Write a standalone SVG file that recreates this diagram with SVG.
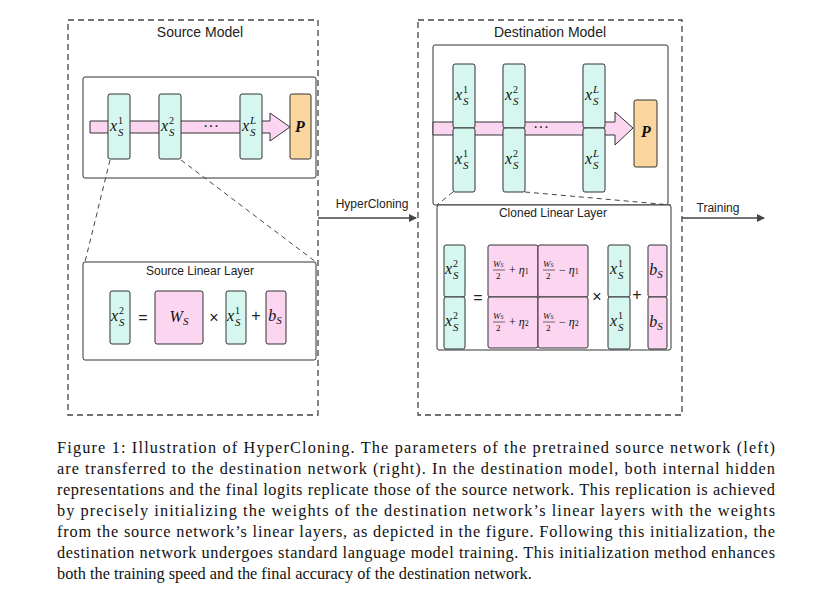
<svg xmlns="http://www.w3.org/2000/svg" width="827" height="600" viewBox="0 0 827 600">
<style>
.dash{fill:none;stroke:#444;stroke-width:1.3;stroke-dasharray:6,4}
.box{fill:#fff;stroke:#333;stroke-width:1}
.g{fill:#d6f7ef;stroke:#333;stroke-width:1}
.p{fill:#fcd5f1;stroke:#333;stroke-width:1}
.o{fill:#fbd79f;stroke:#333;stroke-width:1}
.t{font-family:"Liberation Sans",sans-serif;font-size:14px;fill:#222;text-anchor:middle}
.ts{font-family:"Liberation Sans",sans-serif;font-size:12px;fill:#222;text-anchor:middle}
.m{font-family:"Liberation Serif",serif;font-style:italic;font-size:16px;fill:#111;text-anchor:middle}
.x{font-family:"Liberation Serif",serif;font-style:italic;font-size:16px;fill:#111}
.sp{font-family:"Liberation Serif",serif;font-size:10px;fill:#111}
.sb{font-family:"Liberation Serif",serif;font-style:italic;font-size:11px;fill:#111}
.op{font-family:"Liberation Sans",sans-serif;font-size:16px;fill:#222;text-anchor:middle}
.cap{font-family:"Liberation Serif",serif;font-size:16.3px;fill:#111}
.cl{fill:none;stroke:#444;stroke-width:1;stroke-dasharray:5,4}
</style>
<defs>
<marker id="ah" markerWidth="8" markerHeight="8" refX="7" refY="4" orient="auto" markerUnits="userSpaceOnUse"><path d="M0,0 L8,4 L0,8 z" fill="#444"/></marker>
</defs>
<g id="source">
<rect class="dash" x="68" y="20" width="250" height="395"/>
<text class="t" x="200" y="37">Source Model</text>
<rect class="box" x="83" y="77" width="233" height="101" rx="2"/>
<path class="p" d="M90,121 H270 V113 L290,127 L270,141 V133 H90 Z"/>
<rect class="g" x="108" y="94" width="22" height="65" rx="2"/>
<rect class="g" x="159" y="94" width="22" height="65" rx="2"/>
<rect class="g" x="240" y="94" width="22" height="65" rx="2"/>
<rect class="o" x="290" y="94" width="21" height="65" rx="2"/>
<text class="x" x="110" y="131">x</text><text class="sp" x="118" y="124">1</text><text class="sb" x="118" y="136">S</text>
<text class="x" x="161" y="131">x</text><text class="sp" x="169" y="124">2</text><text class="sb" x="169" y="136">S</text>
<text class="x" x="242" y="131">x</text><text class="sb" x="250" y="124" font-size="10">L</text><text class="sb" x="250" y="136">S</text>
<text class="op" x="211" y="131">···</text>
<text class="m" x="300" y="132" font-weight="bold">P</text>
<rect class="box" x="83" y="262" width="233" height="98" rx="2"/>
<text class="ts" x="200" y="275">Source Linear Layer</text>
<rect class="g" x="110" y="291" width="20" height="53" rx="2"/>
<text class="x" x="111" y="321">x</text><text class="sp" x="119" y="314">2</text><text class="sb" x="119" y="326">S</text>
<text class="op" x="143" y="323">=</text>
<rect class="p" x="155" y="291" width="48" height="53" rx="2"/>
<text class="m" x="179" y="322">W<tspan font-size="11" dy="3">S</tspan></text>
<text class="op" x="214" y="323">×</text>
<rect class="g" x="226" y="291" width="20" height="53" rx="2"/>
<text class="x" x="227" y="321">x</text><text class="sp" x="235" y="314">1</text><text class="sb" x="235" y="326">S</text>
<text class="op" x="256" y="321">+</text>
<rect class="p" x="266" y="291" width="20" height="53" rx="2"/>
<text class="m" x="275" y="321">b<tspan font-size="11" dy="3">S</tspan></text>
</g>
<g id="destination">
<rect class="dash" x="418" y="20" width="264" height="395"/>
<text class="t" x="550" y="37">Destination Model</text>
<rect class="box" x="433" y="45" width="235" height="160" rx="2"/>
<path class="p" d="M433,122 H615 V112 L633,128 L615,145 V135 H433 Z"/>
<rect class="g" x="453" y="64" width="22" height="64" rx="2"/>
<rect class="g" x="453" y="128" width="22" height="64" rx="2"/>
<rect class="g" x="503" y="64" width="22" height="64" rx="2"/>
<rect class="g" x="503" y="128" width="22" height="64" rx="2"/>
<rect class="g" x="583" y="64" width="22" height="64" rx="2"/>
<rect class="g" x="583" y="128" width="22" height="64" rx="2"/>
<rect class="o" x="634" y="100" width="23" height="67" rx="2"/>
<text class="x" x="455" y="100">x</text><text class="sp" x="463" y="93">1</text><text class="sb" x="463" y="105">S</text>
<text class="x" x="455" y="164">x</text><text class="sp" x="463" y="157">1</text><text class="sb" x="463" y="169">S</text>
<text class="x" x="505" y="100">x</text><text class="sp" x="513" y="93">2</text><text class="sb" x="513" y="105">S</text>
<text class="x" x="505" y="164">x</text><text class="sp" x="513" y="157">2</text><text class="sb" x="513" y="169">S</text>
<text class="x" x="585" y="100">x</text><text class="sb" x="593" y="93" font-size="10">L</text><text class="sb" x="593" y="105">S</text>
<text class="x" x="585" y="164">x</text><text class="sb" x="593" y="157" font-size="10">L</text><text class="sb" x="593" y="169">S</text>
<text class="op" x="541" y="132">···</text>
<text class="m" x="646" y="137" font-weight="bold">P</text>
<rect class="box" x="437" y="205" width="234" height="145" rx="2"/>
<text class="ts" x="553" y="217">Cloned Linear Layer</text>
<rect class="g" x="444" y="245" width="21" height="52" rx="2"/>
<rect class="g" x="444" y="297" width="21" height="52" rx="2"/>
<text class="x" x="445" y="274">x</text><text class="sp" x="453" y="267">2</text><text class="sb" x="453" y="279">S</text>
<text class="x" x="445" y="326">x</text><text class="sp" x="453" y="319">2</text><text class="sb" x="453" y="331">S</text>
<text class="op" x="478" y="303">=</text>
<rect class="p" x="488" y="245" width="50" height="52" rx="2"/>
<rect class="p" x="538" y="245" width="50" height="52" rx="2"/>
<rect class="p" x="488" y="297" width="50" height="51" rx="2"/>
<rect class="p" x="538" y="297" width="50" height="51" rx="2"/>
<g font-family="Liberation Serif,serif" font-size="9" fill="#111">
<text x="493" y="267" font-style="italic">W<tspan font-size="6">S</tspan></text><line x1="493" y1="270" x2="505" y2="270" stroke="#111" stroke-width="0.6"/><text x="496" y="279">2</text>
<text x="509" y="274" font-size="12">+ <tspan font-style="italic">η</tspan><tspan font-size="8">1</tspan></text>
<text x="543" y="267" font-style="italic">W<tspan font-size="6">S</tspan></text><line x1="543" y1="270" x2="555" y2="270" stroke="#111" stroke-width="0.6"/><text x="546" y="279">2</text>
<text x="559" y="274" font-size="12">− <tspan font-style="italic">η</tspan><tspan font-size="8">1</tspan></text>
<text x="493" y="319" font-style="italic">W<tspan font-size="6">S</tspan></text><line x1="493" y1="322" x2="505" y2="322" stroke="#111" stroke-width="0.6"/><text x="496" y="331">2</text>
<text x="509" y="326" font-size="12">+ <tspan font-style="italic">η</tspan><tspan font-size="8">2</tspan></text>
<text x="543" y="319" font-style="italic">W<tspan font-size="6">S</tspan></text><line x1="543" y1="322" x2="555" y2="322" stroke="#111" stroke-width="0.6"/><text x="546" y="331">2</text>
<text x="559" y="326" font-size="12">− <tspan font-style="italic">η</tspan><tspan font-size="8">2</tspan></text>
</g>
<text class="op" x="597" y="302">×</text>
<rect class="g" x="608" y="245" width="22" height="52" rx="2"/>
<rect class="g" x="608" y="297" width="22" height="52" rx="2"/>
<text class="x" x="610" y="274">x</text><text class="sp" x="618" y="267">1</text><text class="sb" x="618" y="279">S</text>
<text class="x" x="610" y="326">x</text><text class="sp" x="618" y="319">1</text><text class="sb" x="618" y="331">S</text>
<text class="op" x="637" y="300">+</text>
<rect class="p" x="648" y="245" width="19" height="52" rx="2"/>
<rect class="p" x="648" y="297" width="19" height="52" rx="2"/>
<text class="m" x="656" y="275">b<tspan font-size="11" dy="3">S</tspan></text>
<text class="m" x="656" y="327">b<tspan font-size="11" dy="3">S</tspan></text>
</g>
<g id="connectors">
<line class="cl" x1="110" y1="160" x2="85" y2="262"/>
<line class="cl" x1="181" y1="160" x2="316" y2="262"/>
<line class="cl" x1="453" y1="192" x2="437" y2="205"/>
<line class="cl" x1="525" y1="192" x2="671" y2="205"/>
<line x1="318" y1="218" x2="416" y2="218" stroke="#444" stroke-width="1.5" marker-end="url(#ah)"/>
<text class="ts" x="372" y="208">HyperCloning</text>
<line x1="682" y1="218" x2="764" y2="218" stroke="#444" stroke-width="1.5" marker-end="url(#ah)"/>
<text class="ts" x="718" y="212">Training</text>
</g>
<g id="caption" class="cap">
<text x="57" y="453" textLength="718" lengthAdjust="spacing">Figure 1: Illustration of HyperCloning.  The parameters of the pretrained source network (left)</text>
<text x="57" y="474" textLength="718" lengthAdjust="spacing">are transferred to the destination network (right). In the destination model, both internal hidden</text>
<text x="57" y="495" textLength="718" lengthAdjust="spacing">representations and the final logits replicate those of the source network. This replication is achieved</text>
<text x="57" y="516" textLength="718" lengthAdjust="spacing">by precisely initializing the weights of the destination network’s linear layers with the weights</text>
<text x="57" y="537" textLength="718" lengthAdjust="spacing">from the source network’s linear layers, as depicted in the figure. Following this initialization, the</text>
<text x="57" y="558" textLength="718" lengthAdjust="spacing">destination network undergoes standard language model training. This initialization method enhances</text>
<text x="57" y="579">both the training speed and the final accuracy of the destination network.</text>
</g>
</svg>
